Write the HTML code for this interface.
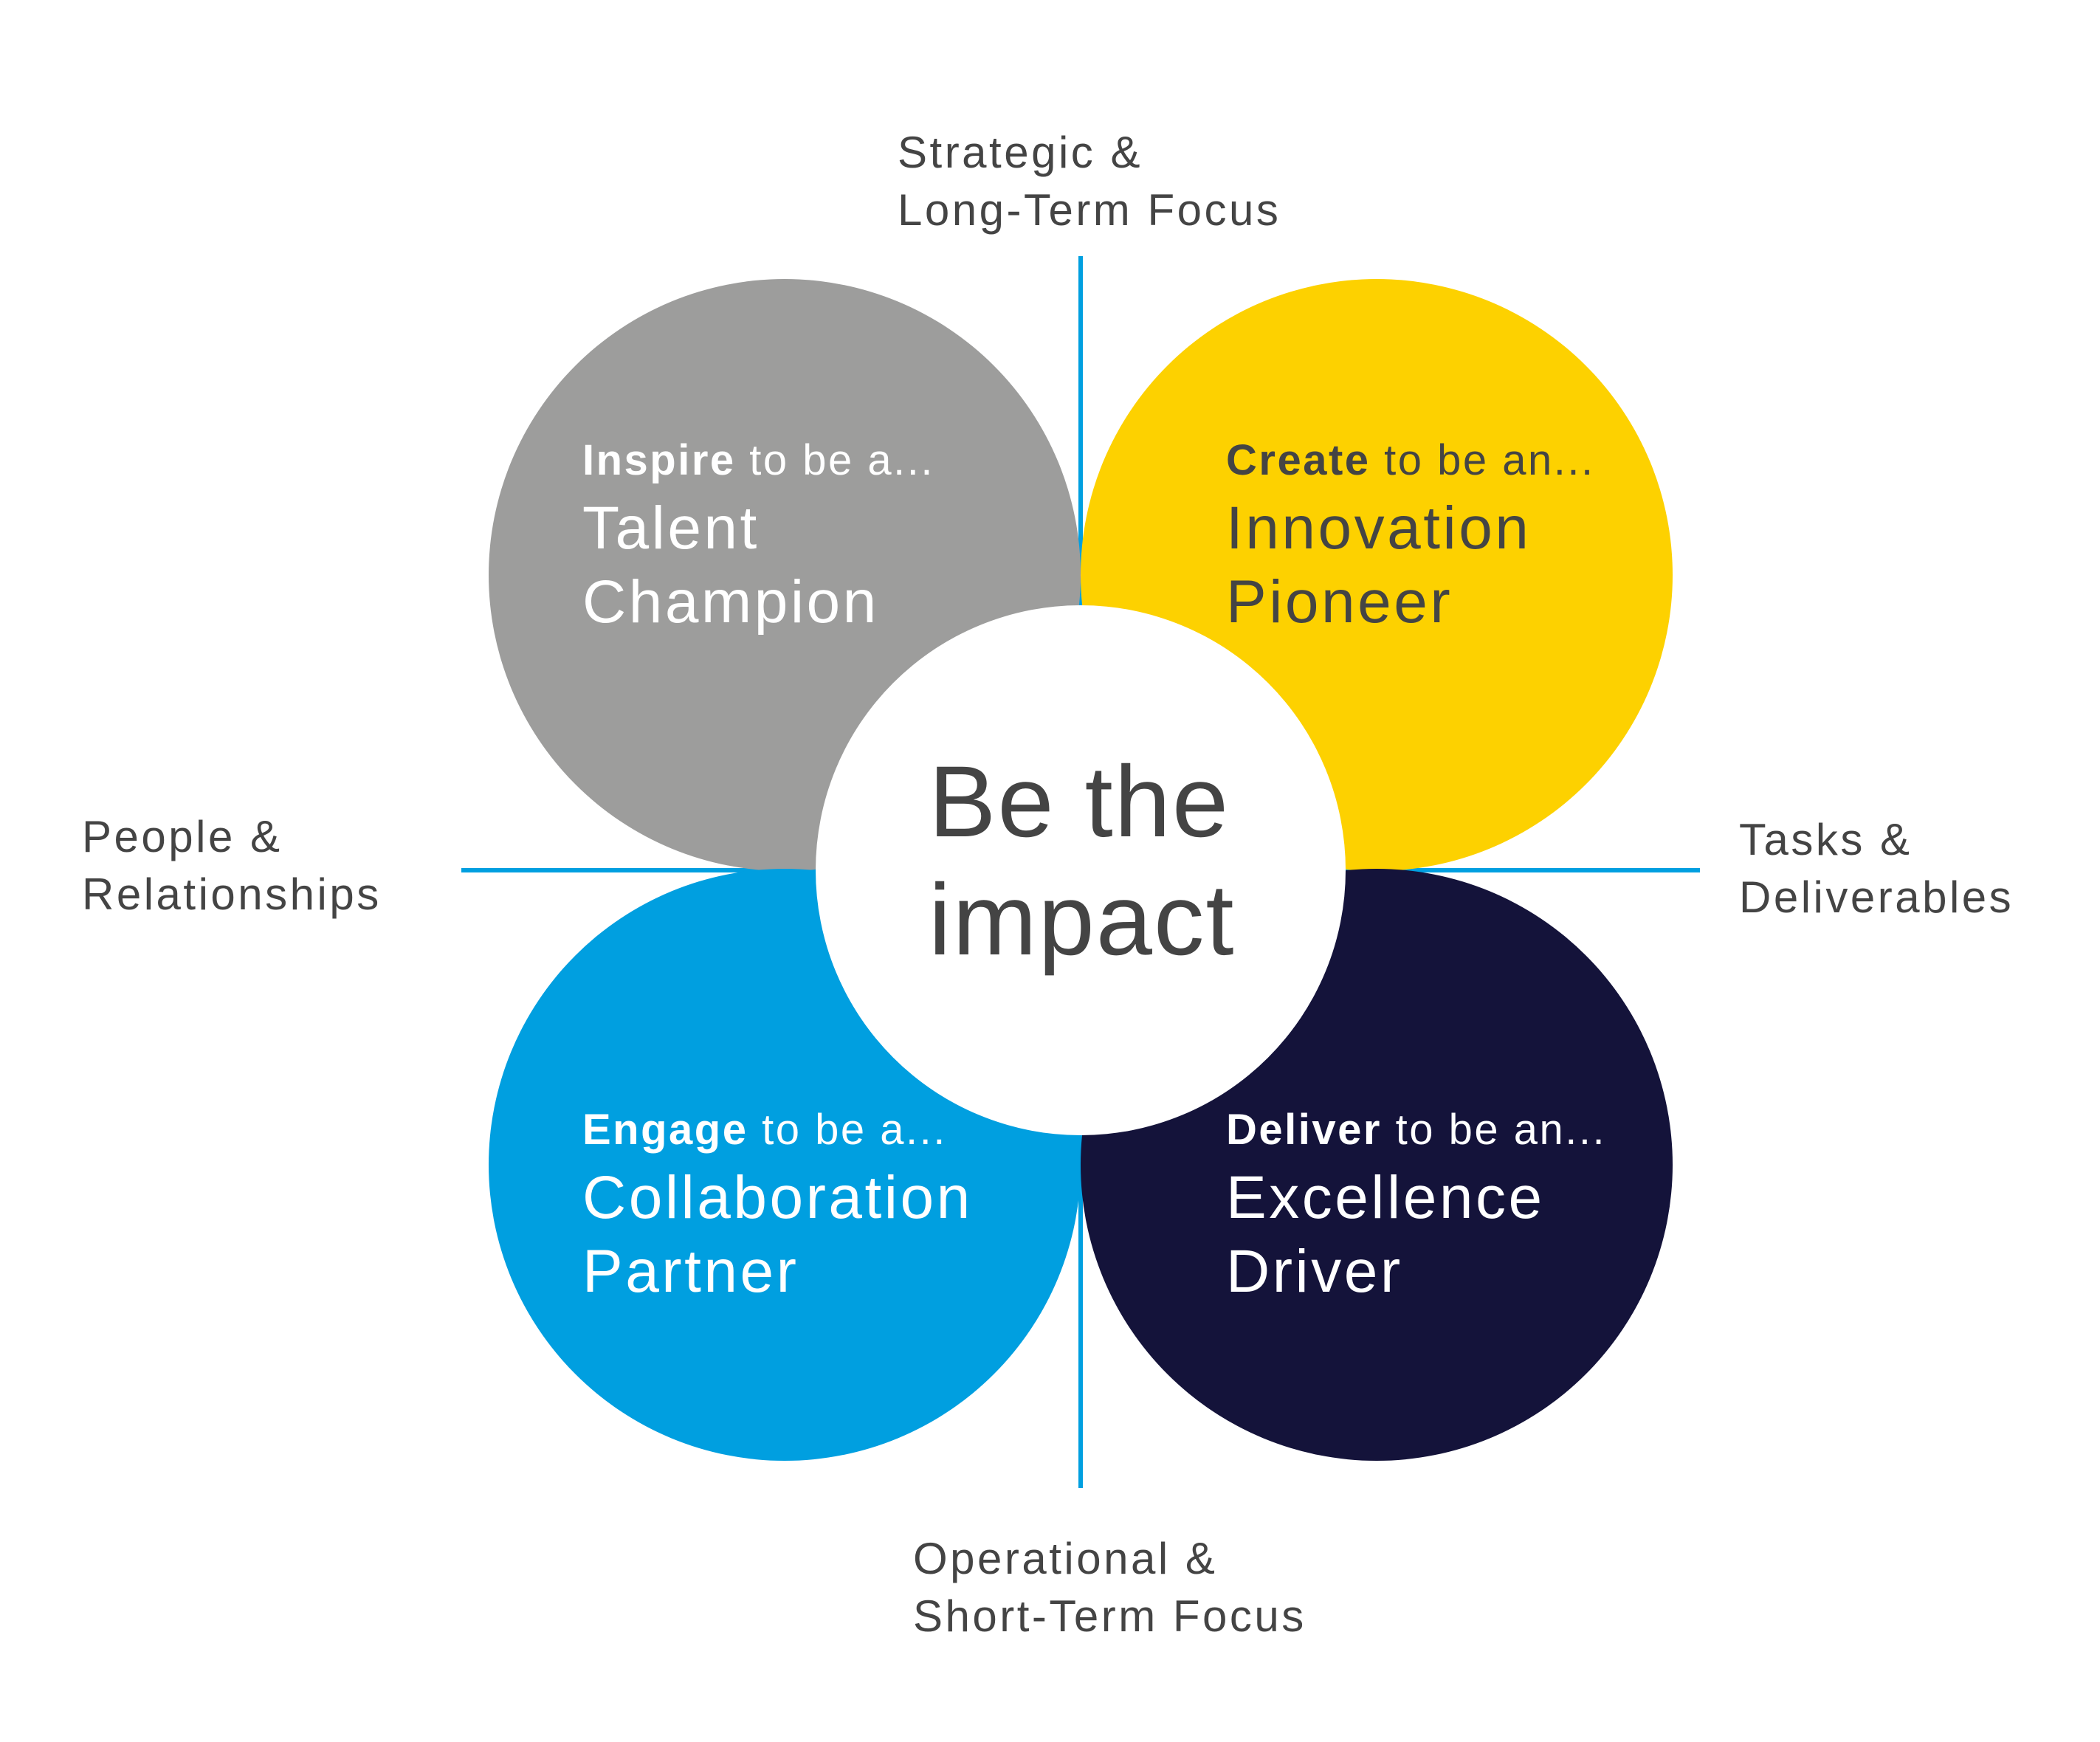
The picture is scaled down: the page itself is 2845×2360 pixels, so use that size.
<!DOCTYPE html>
<html><head><meta charset="utf-8"><style>
body{margin:0;width:2845px;height:2360px;background:#fff;position:relative;overflow:hidden;font-family:"Liberation Sans",sans-serif;}
#w{position:absolute;left:-6px;top:-5px;width:2845px;height:2360px;}
.c{position:absolute;border-radius:50%;}
.t{position:absolute;white-space:nowrap;}
.o{font-size:60px;line-height:78px;color:#444;letter-spacing:3.5px;}
.s{font-size:58px;line-height:60px;letter-spacing:2.5px;}
.b{font-size:82px;line-height:100px;letter-spacing:3.5px;}
</style></head><body><div id="w">
<div style="position:absolute;left:1467px;top:352px;width:6px;height:1669px;background:#009fe0"></div>
<div style="position:absolute;left:631px;top:1181px;width:1678px;height:6px;background:#009fe0"></div>
<div class="c" style="left:668px;top:383px;width:802px;height:802px;background:#9d9d9c"></div>
<div class="c" style="left:1470px;top:383px;width:802px;height:802px;background:#fdd100"></div>
<div class="c" style="left:668px;top:1182px;width:802px;height:802px;background:#009fe0"></div>
<div class="c" style="left:1470px;top:1182px;width:802px;height:802px;background:#14133a"></div>
<div class="c" style="left:1111px;top:825px;width:718px;height:718px;background:#fff"></div>

<div class="t o" style="left:1222px;top:173px">Strategic &amp;<br>Long-Term Focus</div>
<div class="t o" style="left:117px;top:1100px">People &amp;<br>Relationships</div>
<div class="t o" style="left:2362px;top:1104px">Tasks &amp;<br>Deliverables</div>
<div class="t o" style="left:1243px;top:2078px">Operational &amp;<br>Short-Term Focus</div>

<div class="t" style="left:795px;top:599px;color:#fff"><div class="s"><b>Inspire</b> to be a...</div><div class="b" style="margin-top:12px">Talent<br>Champion</div></div>
<div class="t" style="left:1667px;top:599px;color:#444"><div class="s"><b>Create</b> to be an...</div><div class="b" style="margin-top:12px">Innovation<br>Pioneer</div></div>
<div class="t" style="left:795px;top:1506px;color:#fff"><div class="s"><b>Engage</b> to be a...</div><div class="b" style="margin-top:12px">Collaboration<br>Partner</div></div>
<div class="t" style="left:1667px;top:1506px;color:#fff"><div class="s"><b>Deliver</b> to be an...</div><div class="b" style="margin-top:12px">Excellence<br>Driver</div></div>

<div class="t" style="left:1264px;top:1012px;font-size:137px;line-height:160px;color:#444;letter-spacing:2px">Be the<br>impact</div>
</div></body></html>
